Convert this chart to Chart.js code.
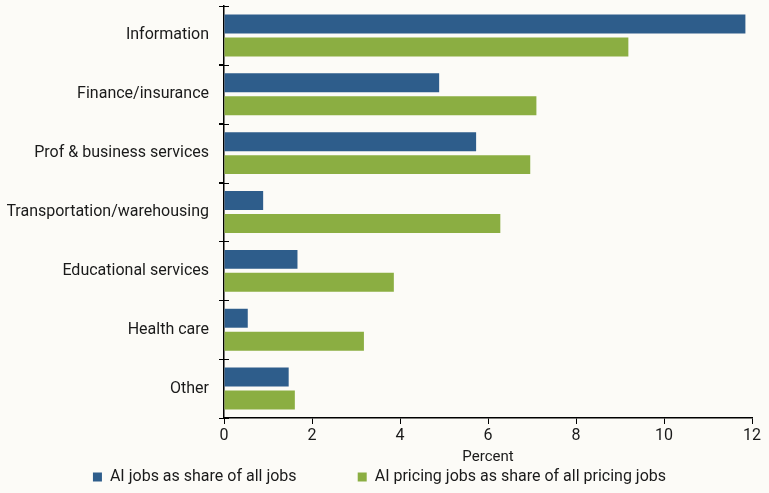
<!DOCTYPE html>
<html>
<head>
<meta charset="utf-8">
<script src="https://cdn.jsdelivr.net/npm/chart.js@4.4.0/dist/chart.umd.min.js"></script>
<style>
  html, body { margin: 0; padding: 0; background: #fcfbf7; }
  #wrap { width: 769px; height: 493px; }
</style>
</head>
<body>
<div id="wrap"><canvas id="mycanvas"></canvas></div>
<script>
// industries, top to bottom
var industries = ['Information', 'Finance/insurance', 'Prof & business services',
  'Transportation/warehousing', 'Educational services', 'Health care', 'Other'];

// percent
var aiJobs = [11.85, 4.89, 5.73, 0.89, 1.67, 0.54, 1.47];
var aiPricingJobs = [9.19, 7.10, 6.96, 6.28, 3.86, 3.18, 1.61];

var xTicks = [0, 2, 4, 6, 8, 10, 12];

var blue = '#2e5d8b';
var green = '#8bae42';
var ink = '#1a1a1a';

Chart.defaults.font.family = 'Roboto, "Liberation Sans", sans-serif';
Chart.defaults.font.size = 16;
Chart.defaults.color = ink;

// category ticks on the y axis cross the axis line on both sides
var crossTicks = {
  id: 'crossTicks',
  afterDraw: function (chart) {
    var y = chart.scales.y;
    var x0 = chart.scales.x.left;
    var ctx = chart.ctx;
    ctx.save();
    ctx.strokeStyle = '#000';
    ctx.lineWidth = 1;
    ctx.beginPath();
    for (var i = 0; i <= industries.length; i++) {
      var py = Math.round(y.getPixelForValue(i - 0.5)) + 0.5;
      ctx.moveTo(x0 - 5, py);
      ctx.lineTo(x0 + 5, py);
    }
    ctx.stroke();
    ctx.restore();
  }
};

var chartdata = {
  labels: industries,
  datasets: [
    {
      label: 'AI jobs as share of all jobs',
      backgroundColor: blue,
      data: aiJobs
    },
    {
      label: 'AI pricing jobs as share of all pricing jobs',
      backgroundColor: green,
      data: aiPricingJobs
    }
  ]
};

new Chart(document.getElementById('mycanvas'), {
  type: 'bar',
  data: chartdata,
  plugins: [crossTicks],
  options: {
    indexAxis: 'y',
    responsive: true,
    maintainAspectRatio: false,
    animation: false,
    categoryPercentage: 0.78,
    barPercentage: 0.826,
    layout: { padding: { top: 6, left: 7, right: 17, bottom: -2 } },
    scales: {
      x: {
        min: 0,
        max: 12,
        afterBuildTicks: function (scale) {
          scale.ticks = xTicks.map(function (v) { return { value: v }; });
        },
        grid: { drawOnChartArea: false, tickLength: 6, color: '#000' },
        border: { color: '#000', width: 1.5 },
        ticks: { padding: 4, color: ink, maxRotation: 0, font: { lineHeight: 1 } },
        title: { display: true, text: 'Percent', color: ink, font: { size: 15, lineHeight: 1 }, padding: { top: 2, bottom: 0 } }
      },
      y: {
        grid: { drawOnChartArea: false, tickLength: 5, color: '#000' },
        border: { color: '#000', width: 1.5 },
        ticks: { padding: 10, color: ink },
        afterFit: function (scale) {
          scale.width = 217;
          scale.paddingTop = 0;
          scale.paddingBottom = 0;
        }
      }
    },
    plugins: {
      legend: {
        position: 'bottom',
        labels: {
          boxWidth: 9,
          boxHeight: 9,
          padding: 4,
          color: ink,
          generateLabels: function (chart) {
            var items = Chart.defaults.plugins.legend.labels.generateLabels(chart);
            // spacing between the two entries
            items[0].text = items[0].text + '\u2003\u2003\u2003\u2002';
            return items;
          }
        }
      },
      tooltip: { enabled: false }
    }
  }
});
</script>
</body>
</html>
